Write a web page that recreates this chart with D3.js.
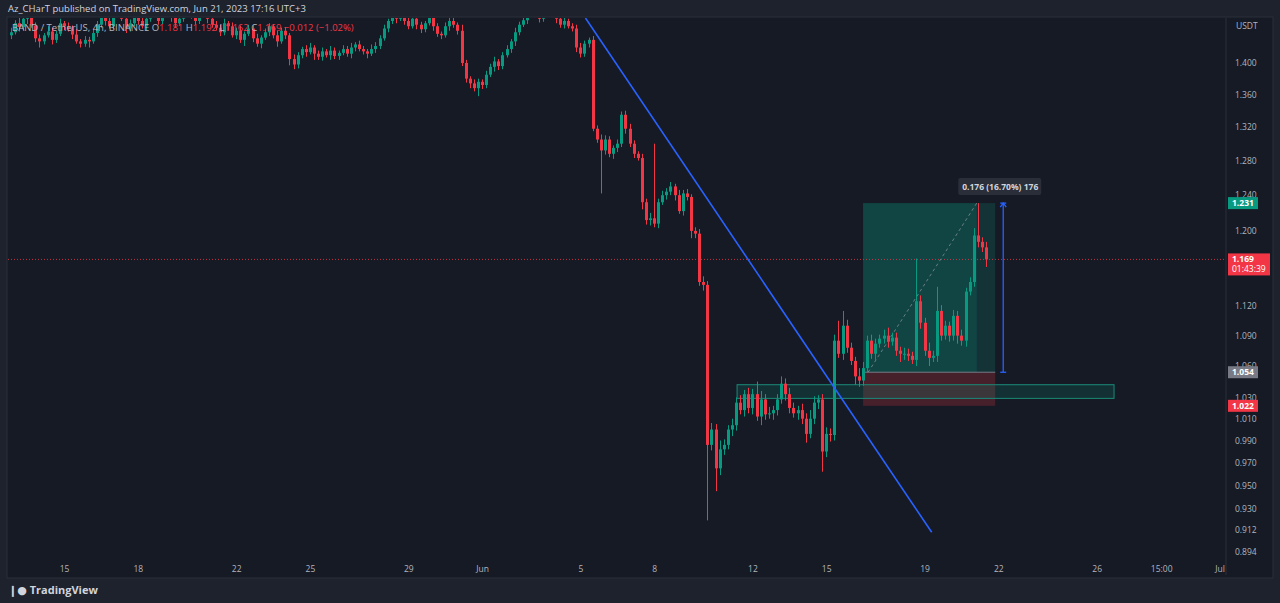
<!DOCTYPE html>
<html lang="en">
<head>
<meta charset="UTF-8">
<title>BAND / TetherUS 4h</title>
<script src="https://d3js.org/d3.v7.min.js"></script>
<style>
  body { margin: 0; background: #1e222d; }
  text { font-family: "Open Sans", "DejaVu Sans", sans-serif; }
</style>
</head>
<body>
<script>
// 4h candles, last one Jun 21 2023 12:00, open of each = previous close
var firstOpen = 1.436;
var closes = [
  1.440,1.452,1.447,1.458,1.462,1.449,1.432,1.428,1.436,1.441,1.430,1.438,1.452,1.448,
  1.445,1.437,1.428,1.425,1.430,1.428,1.439,1.450,1.462,1.455,1.448,1.466,
  1.470,1.458,1.445,1.452,1.463,1.455,1.448,1.458,1.470,1.462,1.455,1.466,1.472,1.460,1.452,1.458,1.466,1.470,1.461,1.455,1.463,1.468,1.458,1.450,
  1.446,1.440,1.452,1.448,1.436,1.442,1.430,1.438,1.445,1.432,1.425,1.433,1.440,1.448,1.436,1.428,1.442,1.436,
  1.405,1.398,
  1.410,1.418,1.414,1.420,1.412,1.408,1.415,1.410,1.416,1.409,1.413,1.418,1.412,1.420,1.424,1.418,1.415,1.412,1.418,1.422,
  1.432,1.445,1.455,1.462,1.458,
  1.468,1.455,1.448,1.458,1.450,1.444,1.452,1.460,1.448,1.438,1.436,1.448,1.455,1.450,1.442,
  1.400,1.380,1.374,1.368,1.376,1.372,
  1.385,1.395,1.402,1.396,1.410,1.418,1.428,1.440,1.450,1.456,
  1.465,1.470,1.462,1.458,1.468,1.472,1.466,1.458,1.450,1.455,1.448,
  1.445,1.420,1.412,1.425,1.430,
  1.318,1.305,1.292,1.305,1.288,1.295,1.300,1.335,1.318,1.300,1.288,1.283,1.232,1.212,1.214,1.208,1.232,1.240,1.244,1.250,1.240,1.222,1.242,1.238,1.200,1.197,1.145,1.142,
  0.986,1.000,0.965,0.982,0.986,1.000,1.004,1.025,1.018,1.033,1.020,1.033,1.012,1.028,1.014,1.015,1.018,1.028,1.043,1.033,1.020,1.015,1.018,1.010,0.996,1.010,1.025,1.028,0.980,0.996,0.995,1.085,
  1.072,1.100,1.078,1.065,1.050,1.046,1.058,1.085,1.072,1.082,1.087,1.090,1.084,1.088,1.075,1.072,1.072,1.070,1.066,1.125,1.103,1.075,1.068,1.070,1.115,1.090,1.100,1.090,1.110,1.090,1.085,1.135,1.145,1.195,1.188,1.182,1.169
];
// upper / lower wick lengths in thousandths
var wickUp = [
  6,4,8,5,3,6,4,5,3,7, 5,4,6,3,5,4,7,3,5,4, 6,5,3,7,4,5,6,3,4,5, 5,3,6,4,5,7,3,4,6,5,
  4,6,3,5,4,3,6,5,4,3, 5,4,6,3,5,4,7,3,5,4, 6,3,5,4,3,6,4,5,3,6, 4,3,5,6,3,4,5,3,6,4,
  3,5,4,6,3,5,4,3,6,5, 4,5,3,6,4,5,3,4,6,5, 4,3,6,5,4,3,5,4,6,3, 8,4,3,5,4,3,5,4,6,3,
  4,5,3,6,4,3,5,4,6,3, 5,4,3,6,4,5,3,4,5,6, 4,3,5,4,6,5,4,3,5,4, 5,6,4,3,5,4,6,86,4,5,
  4,5,3,6,4,5,3,4,5,6, 4,6,5,8,5,4,6,5,7,4, 6,5,12,8,5,6,4,5,7,5, 6,5,4,6,5,8,6,4,5,6,
  5,6,20,15,6,5,4,8,6,5, 6,5,4,6,8,5,5,4,6,5,4,45, 6,5,8,5,25,6,5,4,6,5, 6,4,5,8,36,5,6
];
var wickDn = [
  5,3,6,4,7,3,5,8,4,3, 6,4,3,5,4,6,3,5,4,8, 3,5,4,6,3,4,5,3,6,4, 4,5,3,6,4,3,5,4,3,6,
  5,3,4,6,3,5,4,3,6,4, 3,5,4,6,3,5,4,8,3,5, 4,6,3,5,4,7,3,5,8,6, 5,4,6,3,8,4,5,3,6,4,
  5,3,4,6,5,3,4,6,3,5, 4,3,5,4,6,3,5,4,3,6, 5,4,3,6,4,5,3,6,4,5, 4,5,6,4,10,5,4,3,6,5,
  4,3,5,6,4,3,5,4,3,5, 4,5,3,6,4,5,3,4,6,5, 4,5,3,4,50,5,4,6,5,4, 6,4,5,3,8,5,6,4,5,3,
  5,4,6,3,5,4,8,5,4,6, 66,5,20,6,5,4,6,5,4,6, 5,6,4,8,5,4,6,5,4,6, 5,4,6,5,8,4,5,6,18,5,
  6,5,4,6,5,4,8,6,5,4, 5,6,4,5,6,4,5,8,6,5,4,6, 6,5,8,4,6,5,4,6,5,8, 5,6,4,5,6,5,8
];
var lastTime = new Date(2023, 5, 21, 12);

var priceTicks = [1.400,1.360,1.320,1.280,1.240,1.200,1.120,1.090,1.060,1.030,1.010,0.990,0.970,0.950,0.930,0.912,0.894];
var dateTicks = [
  [new Date(2023,4,15),"15"],[new Date(2023,4,18),"18"],[new Date(2023,4,22),"22"],[new Date(2023,4,25),"25"],
  [new Date(2023,4,29),"29"],[new Date(2023,5,1),"Jun"],[new Date(2023,5,5),"5"],[new Date(2023,5,8),"8"],
  [new Date(2023,5,12),"12"],[new Date(2023,5,15),"15"],[new Date(2023,5,19),"19"],[new Date(2023,5,22),"22"],
  [new Date(2023,5,26),"26"],[new Date(2023,5,28,15),"15:00"],[new Date(2023,6,1),"Jul"]
];
var trendLine = [[new Date(2023,5,5,5),1.459],[new Date(2023,5,19,7),0.910]];
var entry = 1.054, target = 1.231, stop = 1.022, lastPrice = 1.169;
var posStart = new Date(2023,5,16,12), posFill = new Date(2023,5,21,3), posEnd = new Date(2023,5,21,21);
var zone = [new Date(2023,5,11,9), new Date(2023,5,26,17), 1.042, 1.029];

var W = 1280, H = 603;
var L = 8, R = 1225, T = 18, B = 575;
var up = "#089981", dn = "#f23645";

var candles = closes.map(function(c, i) {
  var o = i === 0 ? firstOpen : closes[i-1];
  return {
    t: new Date(lastTime.getTime() - (closes.length-1-i)*4*3600e3),
    o: o, c: c,
    h: Math.max(o,c) + wickUp[i]/1000,
    l: Math.min(o,c) - wickDn[i]/1000
  };
});

var x = d3.scaleTime()
  .domain([new Date(2023,5,1), lastTime])
  .range([482, 986]);
var y = d3.scaleLog().domain([0.875, 1.459]).range([B, T]);

var svg = d3.select("body").append("svg").attr("width", W).attr("height", H);
svg.append("rect").attr("width", W).attr("height", H).attr("fill", "#1e222d");
svg.append("rect").attr("x", 7).attr("y", 17).attr("width", 1266).attr("height", 561)
  .attr("fill", "#161a25").attr("stroke", "#2a2e39");

svg.append("text").attr("x", 8).attr("y", 12).attr("fill", "#d1d4dc")
  .attr("font-size", 9.5).text("Az_CHarT published on TradingView.com, Jun 21, 2023 17:16 UTC+3");

svg.append("defs").append("clipPath").attr("id", "clip")
  .append("rect").attr("x", L).attr("y", T).attr("width", R-L).attr("height", B-T);
var plot = svg.append("g").attr("clip-path", "url(#clip)");

// position tool
plot.append("rect").attr("x", x(posStart)).attr("y", y(target))
  .attr("width", x(posEnd)-x(posStart)).attr("height", y(entry)-y(target))
  .attr("fill", "rgba(8,153,129,0.2)");
plot.append("rect").attr("x", x(posStart)).attr("y", y(target))
  .attr("width", x(posFill)-x(posStart)).attr("height", y(entry)-y(target))
  .attr("fill", "rgba(8,153,129,0.18)");
plot.append("rect").attr("x", x(posStart)).attr("y", y(entry))
  .attr("width", x(posEnd)-x(posStart)).attr("height", y(stop)-y(entry))
  .attr("fill", "rgba(242,54,69,0.22)");
plot.append("line").attr("x1", x(posStart)).attr("x2", x(posEnd))
  .attr("y1", y(entry)).attr("y2", y(entry)).attr("stroke", "#787b86").attr("stroke-width", 1);
plot.append("line").attr("x1", x(posStart)+5).attr("y1", y(entry))
  .attr("x2", x(posFill)).attr("y2", y(target))
  .attr("stroke", "#9598a1").attr("stroke-dasharray", "3,3").attr("opacity", 0.7);

// zone
plot.append("rect").attr("x", x(zone[0])).attr("y", y(zone[2]))
  .attr("width", x(zone[1])-x(zone[0])).attr("height", y(zone[3])-y(zone[2]))
  .attr("fill", "rgba(8,153,129,0.18)").attr("stroke", "#1b8a78").attr("stroke-width", 1);

// last price line
plot.append("line").attr("x1", L).attr("x2", R).attr("y1", y(lastPrice)).attr("y2", y(lastPrice))
  .attr("stroke", dn).attr("stroke-dasharray", "1,2").attr("opacity", 0.8);

// candles
var cg = plot.append("g").selectAll("g").data(candles).enter().append("g");
cg.append("line")
  .attr("x1", function(d){ return Math.round(x(d.t))+0.5; })
  .attr("x2", function(d){ return Math.round(x(d.t))+0.5; })
  .attr("y1", function(d){ return y(d.h); }).attr("y2", function(d){ return y(d.l); })
  .attr("stroke", function(d){ return d.c >= d.o ? up : dn; });
cg.append("rect")
  .attr("x", function(d){ return Math.round(x(d.t))-1; })
  .attr("width", 3)
  .attr("y", function(d){ return y(Math.max(d.o,d.c)); })
  .attr("height", function(d){ return Math.max(1, y(Math.min(d.o,d.c)) - y(Math.max(d.o,d.c))); })
  .attr("fill", function(d){ return d.c >= d.o ? up : dn; });

// trend line
plot.append("line")
  .attr("x1", x(trendLine[0][0])).attr("y1", y(trendLine[0][1]))
  .attr("x2", x(trendLine[1][0])).attr("y2", y(trendLine[1][1]))
  .attr("stroke", "#2962ff").attr("stroke-width", 1.6);

// measure arrow
var mx = x(posEnd) + 8;
var mg = plot.append("g").attr("stroke", "#2962ff").attr("stroke-width", 1.3);
mg.append("line").attr("x1", mx).attr("x2", mx).attr("y1", y(target)).attr("y2", y(entry));
mg.append("line").attr("x1", mx-3).attr("x2", mx+3).attr("y1", y(entry)).attr("y2", y(entry));
mg.append("line").attr("x1", mx-3).attr("x2", mx+3).attr("y1", y(target)).attr("y2", y(target));
mg.append("path").attr("fill", "none")
  .attr("d", "M" + (mx-3) + "," + (y(target)+4) + "L" + mx + "," + y(target) + "L" + (mx+3) + "," + (y(target)+4));
plot.append("rect").attr("x", mx-45).attr("y", y(target)-25).attr("width", 83).attr("height", 17)
  .attr("rx", 2).attr("fill", "#2a2e39");
plot.append("text").attr("x", mx-3).attr("y", y(target)-13).attr("text-anchor", "middle")
  .attr("fill", "#d1d4dc").attr("font-size", 8.5).attr("font-weight", "bold").text("0.176 (16.70%) 176");

// legend
var leg = svg.append("text").attr("x", 12).attr("y", 31).attr("font-size", 9.5).attr("fill", "#b2b5be");
leg.append("tspan").text("BAND / TetherUS, 4h, BINANCE  O");
leg.append("tspan").attr("fill", dn).text("1.181");
leg.append("tspan").text("  H");
leg.append("tspan").attr("fill", dn).text("1.192");
leg.append("tspan").text("  L");
leg.append("tspan").attr("fill", dn).text("1.162");
leg.append("tspan").text("  C");
leg.append("tspan").attr("fill", dn).text("1.169  \u22120.012 (\u22121.02%)");

// price axis
svg.append("line").attr("x1", R+1).attr("x2", R+1).attr("y1", T).attr("y2", B).attr("stroke", "#2a2e39");
var yAxis = svg.append("g").attr("transform", "translate(" + (R+10) + ",0)")
  .call(d3.axisRight(y).tickValues(priceTicks).tickSize(0).tickFormat(d3.format(".3f")));
yAxis.select(".domain").remove();
yAxis.selectAll("text").attr("fill", "#b2b5be").attr("font-size", 8.5).attr("x", 0);
svg.append("text").attr("x", R+11).attr("y", 29).attr("fill", "#b2b5be").attr("font-size", 8.5).text("USDT");

function priceTag(p, bg, label, sub) {
  var h = sub ? 22 : 12;
  svg.append("rect").attr("x", R+3).attr("y", y(p)-6).attr("width", sub ? 42 : 30).attr("height", h).attr("fill", bg);
  svg.append("text").attr("x", R+7).attr("y", y(p)+3).attr("fill", "#fff").attr("font-size", 8.5)
    .attr("font-weight", "bold").text(label);
  if (sub) svg.append("text").attr("x", R+7).attr("y", y(p)+13).attr("fill", "#fff")
    .attr("font-size", 8.5).text(sub);
}
priceTag(target, up, "1.231");
priceTag(lastPrice, dn, "1.169", "01:43:39");
priceTag(entry, "#787b86", "1.054");
priceTag(stop, dn, "1.022");

// time axis
var xAxis = svg.append("g").attr("transform", "translate(0," + (B-12) + ")")
  .call(d3.axisBottom(x).tickValues(dateTicks.map(function(d){ return d[0]; }))
    .tickSize(0).tickFormat(function(d, i){ return dateTicks[i][1]; }));
xAxis.select(".domain").remove();
xAxis.selectAll("text").attr("fill", "#b2b5be").attr("font-size", 8.5);

// footer
svg.append("text").attr("x", 8).attr("y", 594).attr("fill", "#d1d4dc").attr("font-size", 11)
  .attr("font-weight", "bold").text("\u2759\u25CF TradingView");
</script>
</body>
</html>
